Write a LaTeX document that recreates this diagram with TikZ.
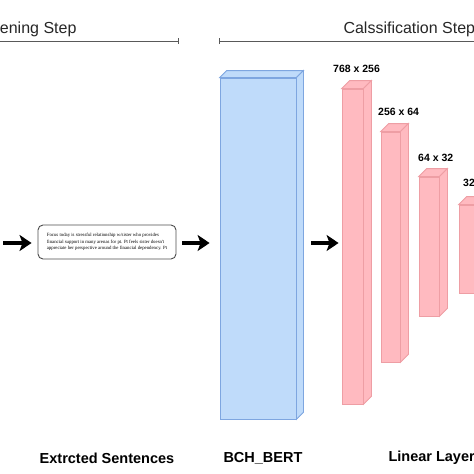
\documentclass[tikz,border=0pt]{standalone}
\usepackage{fontspec}
\setmainfont{Liberation Sans}
\newfontfamily\notefont{Liberation Serif}
\usetikzlibrary{arrows.meta,positioning,calc}

\definecolor{bertfill}{HTML}{BFDBFA}
\definecolor{bertline}{HTML}{7EA6E0}
\definecolor{linfill}{HTML}{FFBAC0}
\definecolor{linline}{HTML}{EE9EA4}

\tikzset{
  header/.style={font=\fontsize{16}{19}\selectfont, text=black!85},
  steprule/.style={draw=black!65, line width=0.9pt, {Bar[width=6pt]}-{Bar[width=6pt]}},
  caption/.style={font=\bfseries\fontsize{14.5}{17}\selectfont},
  dimlabel/.style={font=\bfseries\fontsize{10.5}{12}\selectfont, inner sep=0pt},
  flow/.style={-{Stealth[length=12pt,width=16pt,inset=3pt]}, line width=3.5pt},
  bertface/.style={fill=bertfill, draw=bertline, line width=0.8pt},
  linface/.style={fill=linfill, draw=linline, line width=0.8pt},
}

\begin{document}
\begin{tikzpicture}[x=1pt, y=-1pt]
  \useasboundingbox (0,0) rectangle (474,474);
  \clip (0,0) rectangle (474,474);

  % Headers with their step rules
  \node[header, anchor=east] (screen) at (80,29) {Screening Step};
  \node[header, anchor=west] (classify) at (340,29) {Calssification Step};
  \coordinate (s0) at (-20,41);
  \coordinate (s1) at (179,41);
  \coordinate (c0) at (219,41);
  \coordinate (c1) at (500,41);
  \draw[steprule] (s0) -- (s1);
  \draw[steprule] (c0) -- (c1);

  % Extracted sentence box
  \node[draw=black!70, line width=0.9pt, rounded corners=5pt, minimum width=138pt, minimum height=34pt,
        inner sep=0pt, align=left, font=\notefont\fontsize{4.8}{6.2}\selectfont] (sent) at (107,242)
    {Focus today is stressful relationship w/sister who provides\\
     financial support in many arenas for pt. Pt feels sister doesn't\\
     appreciate her perspective around the financial dependency. Pt};

  % BCH_BERT block
  \node[bertface, minimum width=76pt, minimum height=341pt, inner sep=0pt] (bert) at (258,248.5) {};
  \draw[bertface] (bert.north west) -- ++(7,-7) -- ($(bert.north east)+(7,-7)$) -- (bert.north east) -- cycle;
  \draw[bertface] (bert.north east) -- ++(7,-7) -- ($(bert.south east)+(7,-7)$) -- (bert.south east) -- cycle;

  % Linear layers
  \node[linface, minimum width=21pt, minimum height=315pt, inner sep=0pt] (lin1) at (352.5,246.5) {};
  \draw[linface] (lin1.north west) -- ++(8,-8) -- ($(lin1.north east)+(8,-8)$) -- (lin1.north east) -- cycle;
  \draw[linface] (lin1.north east) -- ++(8,-8) -- ($(lin1.south east)+(8,-8)$) -- (lin1.south east) -- cycle;

  \node[linface, minimum width=19pt, minimum height=230pt, inner sep=0pt] (lin2) at (390.5,247) {};
  \draw[linface] (lin2.north west) -- ++(8,-8) -- ($(lin2.north east)+(8,-8)$) -- (lin2.north east) -- cycle;
  \draw[linface] (lin2.north east) -- ++(8,-8) -- ($(lin2.south east)+(8,-8)$) -- (lin2.south east) -- cycle;

  \node[linface, minimum width=20pt, minimum height=139pt, inner sep=0pt] (lin3) at (429,246.5) {};
  \draw[linface] (lin3.north west) -- ++(8,-8) -- ($(lin3.north east)+(8,-8)$) -- (lin3.north east) -- cycle;
  \draw[linface] (lin3.north east) -- ++(8,-8) -- ($(lin3.south east)+(8,-8)$) -- (lin3.south east) -- cycle;

  \node[linface, minimum width=20pt, minimum height=88pt, inner sep=0pt] (lin4) at (469,249) {};
  \draw[linface] (lin4.north west) -- ++(8,-8) -- ($(lin4.north east)+(8,-8)$) -- (lin4.north east) -- cycle;
  \draw[linface] (lin4.north east) -- ++(8,-8) -- ($(lin4.south east)+(8,-8)$) -- (lin4.south east) -- cycle;

  \node[dimlabel, anchor=west] (dim1) at (333,69) {768 x 256};
  \node[dimlabel, anchor=west] (dim2) at (378,112) {256 x 64};
  \node[dimlabel, anchor=west] (dim3) at (418,158) {64 x 32};
  \node[dimlabel, anchor=west] (dim4) at (463,183) {32 x 2};

  % Flow arrows
  \coordinate (src) at (3,243);
  \draw[flow, shorten >=6pt] (src) -- (src -| sent.west);
  \draw[flow, shorten <=6pt, shorten >=10pt] (sent.east |- src) -- (src -| bert.west);
  \draw[flow, shorten <=15pt, shorten >=3pt] (src -| bert.east) -- (src -| lin1.west);

  % Captions
  \node[caption] (capsent) at (107,458) {Extrcted Sentences};
  \node[caption] (capbert) at (263,458) {BCH\_BERT};
  \node[caption, anchor=west] (caplin) at (385,458) {Linear Layers};
\end{tikzpicture}
\end{document}
